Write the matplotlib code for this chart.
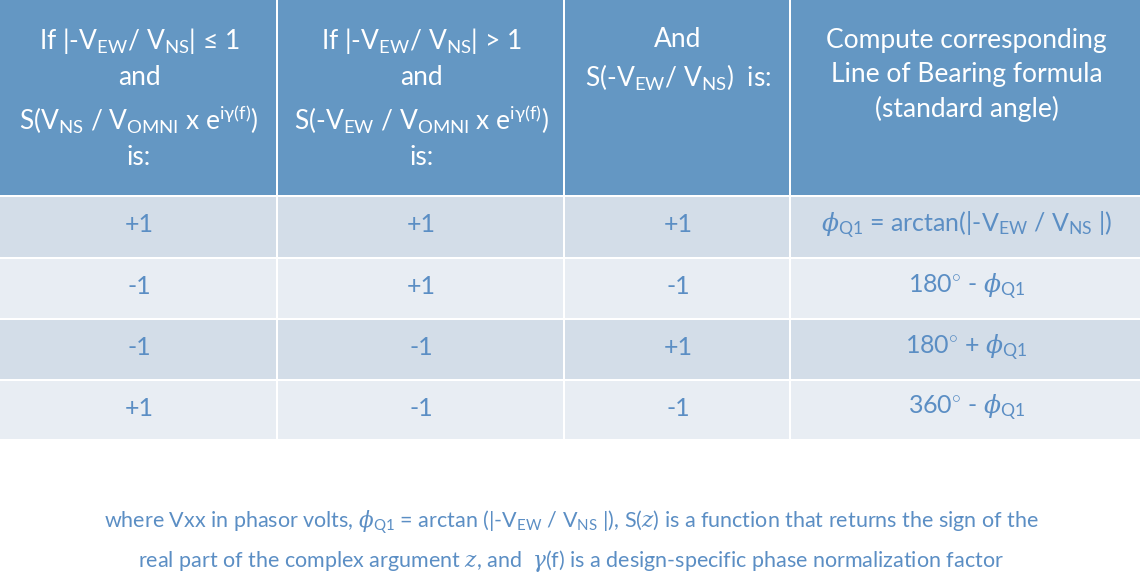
import matplotlib.pyplot as plt
from matplotlib.patches import Rectangle

plt.rcParams['font.family'] = ['Lato', 'DejaVu Sans']
plt.rcParams['mathtext.fontset'] = 'custom'
plt.rcParams['mathtext.rm'] = 'Lato'
plt.rcParams['mathtext.it'] = 'DejaVu Serif:italic'

W, H = 1142, 583

headers = [
    "If |-V$_{\\rm EW}$/ V$_{\\rm NS}$| ≤ 1\nand\nS(V$_{\\rm NS}$ / V$_{\\rm OMNI}$ x e$^{\\rm i\\gamma(f)}$)\nis:",
    "If |-V$_{\\rm EW}$/ V$_{\\rm NS}$| > 1\nand\nS(-V$_{\\rm EW}$ / V$_{\\rm OMNI}$ x e$^{\\rm i\\gamma(f)}$)\nis:",
    "And\nS(-V$_{\\rm EW}$/ V$_{\\rm NS}$)  is:",
    "Compute corresponding\nLine of Bearing formula\n(standard angle)",
]
col1 = ["+1", "-1", "-1", "+1"]
col2 = ["+1", "+1", "-1", "-1"]
col3 = ["+1", "-1", "+1", "-1"]
col4 = [
    "$\\phi_{\\rm Q1}$ = arctan(|-V$_{\\rm EW}$ / V$_{\\rm NS}$ |)",
    "180$^{\\circ}$ - $\\phi_{\\rm Q1}$",
    "180$^{\\circ}$ + $\\phi_{\\rm Q1}$",
    "360$^{\\circ}$ - $\\phi_{\\rm Q1}$",
]
footer = ("where Vxx in phasor volts, $\\phi_{\\rm Q1}$ = arctan (|-V$_{\\rm EW}$ / V$_{\\rm NS}$ |), "
          "S($z$) is a function that returns the sign of the\n"
          "real part of the complex argument $z$, and  $\\gamma$(f) is a design-specific phase normalization factor")

col_edges = [0, 278, 565, 791, 1142]
row_edges = [197, 259, 320, 381, 441]
head_bg = "#6497c3"
row_bg = ["#d3dde8", "#e8edf3"]
txt = "#5b8ec4"

fig = plt.figure(figsize=(W / 100, H / 100), dpi=100)
ax = fig.add_axes([0, 0, 1, 1])
ax.set_xlim(0, W)
ax.set_ylim(H, 0)
ax.axis("off")

gap = 2
for c in range(4):
    x0, x1 = col_edges[c], col_edges[c + 1]
    ax.add_patch(Rectangle((x0, 0), x1 - x0 - gap, 195, color=head_bg, lw=0))
    ax.text((x0 + x1) / 2, 98 if c < 2 else (60 if c == 2 else 75), headers[c],
            ha="center", va="center", color="white", fontsize=19, linespacing=1.45)

rows = list(zip(col1, col2, col3, col4))
for r, vals in enumerate(rows):
    y0, y1 = row_edges[r], row_edges[r + 1]
    for c in range(4):
        x0, x1 = col_edges[c], col_edges[c + 1]
        ax.add_patch(Rectangle((x0, y0), x1 - x0 - gap, y1 - y0 - gap, color=row_bg[r % 2], lw=0))
        ax.text((x0 + x1) / 2, (y0 + y1) / 2 - 3, vals[c], ha="center", va="center",
                color=txt, fontsize=18)

ax.text(W / 2, 541, footer, ha="center", va="center", color=txt, fontsize=15.5, linespacing=1.6)

fig.savefig("out.png", dpi=100)
